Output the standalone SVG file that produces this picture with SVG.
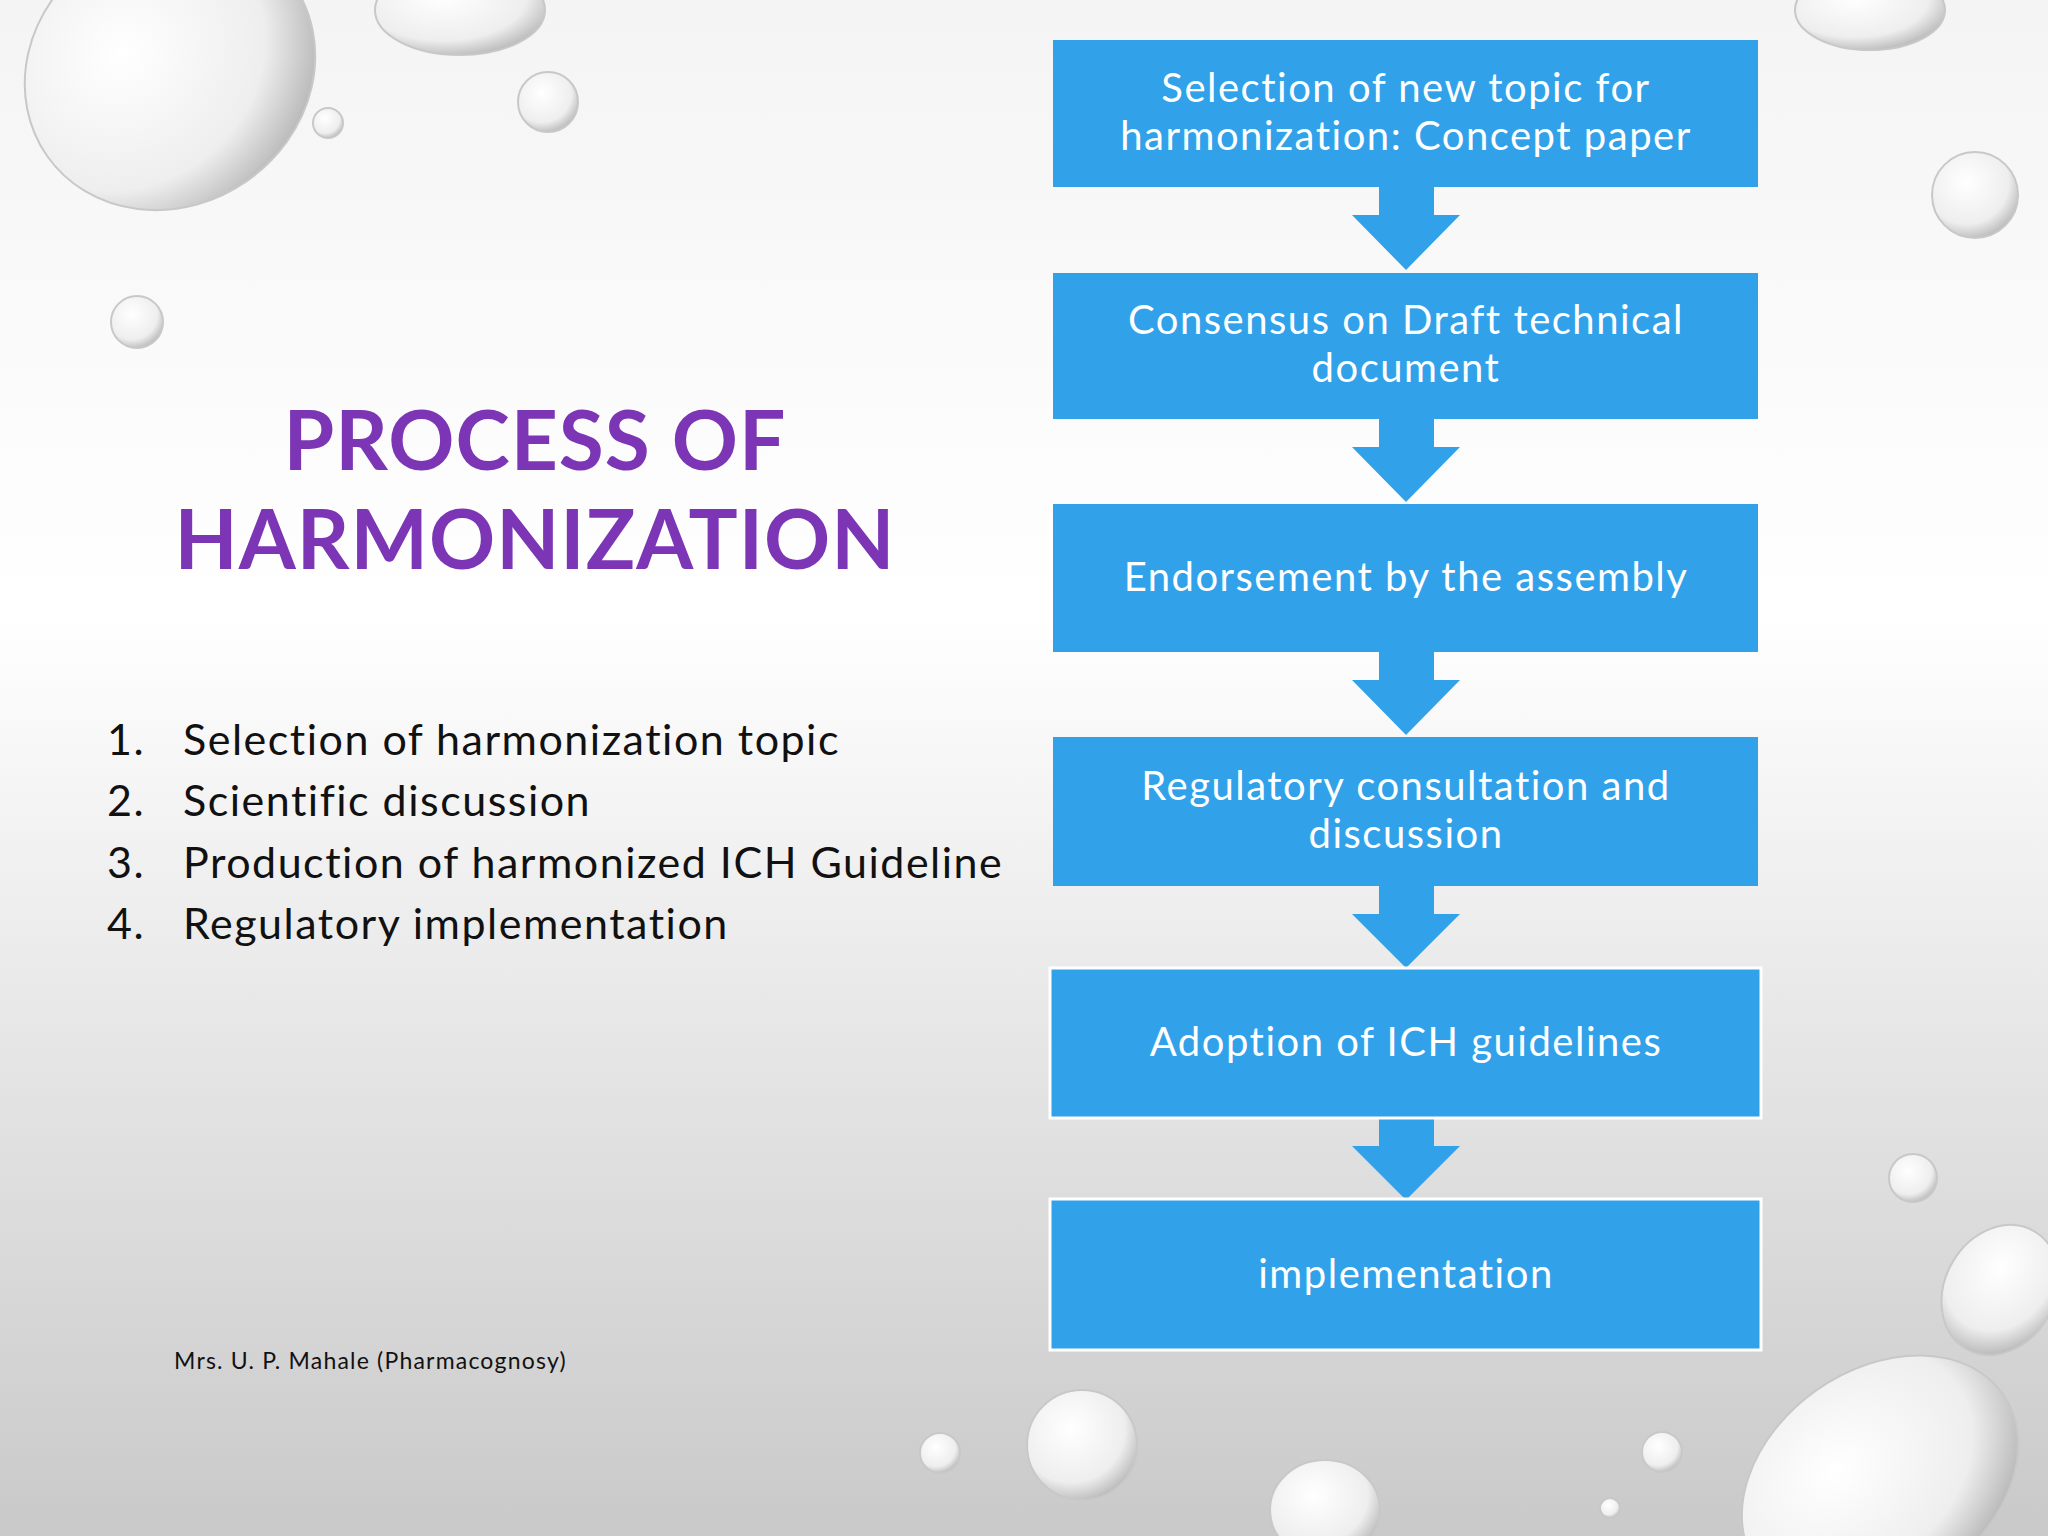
<svg xmlns="http://www.w3.org/2000/svg" width="2048" height="1536" viewBox="0 0 2048 1536">
<defs>
<linearGradient id="bg" x1="0" y1="0" x2="0" y2="1"><stop offset="0" stop-color="#f4f4f4"/><stop offset="0.4" stop-color="#ffffff"/><stop offset="1" stop-color="#c9c9c9"/></linearGradient>
<radialGradient id="drop" cx="0.4" cy="0.35" r="0.7"><stop offset="0" stop-color="#ffffff"/><stop offset="0.7" stop-color="#eeeeee"/><stop offset="1" stop-color="#b5b5b5"/></radialGradient>
<style>
.box{fill:#31a2ea;}
.box2{fill:#31a2ea;stroke:#ffffff;stroke-width:3;}
.bt{font-family:Lato,"Open Sans",sans-serif;font-size:40px;fill:#ffffff;text-anchor:middle;letter-spacing:1.5px;}
.ar{fill:#31a2ea;}
.li{font-family:Lato,"Open Sans",sans-serif;font-size:43px;fill:#111111;letter-spacing:1.5px;}
.dr{fill:url(#drop);stroke:#c8c8c8;stroke-width:2;}
</style>
</defs>
<rect width="2048" height="1536" fill="url(#bg)"/>
<g id="drops">
<ellipse class="dr" cx="170" cy="70" rx="150" ry="135" transform="rotate(-35 170 70)"/>
<ellipse class="dr" cx="460" cy="10" rx="85" ry="45"/>
<circle class="dr" cx="548" cy="102" r="30"/>
<circle class="dr" cx="328" cy="123" r="15"/>
<circle class="dr" cx="137" cy="322" r="26"/>
<circle class="dr" cx="1975" cy="195" r="43"/>
<ellipse class="dr" cx="1870" cy="10" rx="75" ry="40"/>
<circle class="dr" cx="1913" cy="1178" r="24"/>
<ellipse class="dr" cx="2000" cy="1290" rx="55" ry="68" transform="rotate(30 2000 1290)"/>
<ellipse class="dr" cx="1880" cy="1480" rx="150" ry="110" transform="rotate(-35 1880 1480)"/>
<circle class="dr" cx="1082" cy="1445" r="55"/>
<circle class="dr" cx="940" cy="1453" r="20"/>
<ellipse class="dr" cx="1325" cy="1510" rx="55" ry="50"/>
<circle class="dr" cx="1662" cy="1452" r="20"/>
<circle class="dr" cx="1610" cy="1508" r="10"/>
</g>
<g id="title" font-family="Lato,'DejaVu Sans',sans-serif" font-weight="bold" font-size="82" fill="#7b35b5" text-anchor="middle" letter-spacing="1">
<text x="535" y="470">PROCESS OF</text>
<text x="535" y="569">HARMONIZATION</text>
</g>
<g id="list" class="li">
<text class="li" x="107" y="755">1.</text><text class="li" x="183" y="755">Selection of harmonization topic</text>
<text class="li" x="107" y="816">2.</text><text class="li" x="183" y="816">Scientific discussion</text>
<text class="li" x="107" y="878">3.</text><text class="li" x="183" y="878">Production of harmonized ICH Guideline</text>
<text class="li" x="107" y="939">4.</text><text class="li" x="183" y="939">Regulatory implementation</text>
</g>
<text id="footer" x="174" y="1369" font-family="Lato,'Open Sans',sans-serif" font-size="23" fill="#111" letter-spacing="1.2">Mrs. U. P. Mahale (Pharmacognosy)</text>
<g id="connectors">
<polygon class="ar" points="1379,187 1434,187 1434,215 1460,215 1406,270 1352,215 1379,215"/>
<polygon class="ar" points="1379,419 1434,419 1434,447 1460,447 1406,502 1352,447 1379,447"/>
<polygon class="ar" points="1379,652 1434,652 1434,680 1460,680 1406,735 1352,680 1379,680"/>
<polygon class="ar" points="1379,886 1434,886 1434,914 1460,914 1406,968 1352,914 1379,914"/>
<polygon class="ar" points="1379,1118 1434,1118 1434,1146 1460,1146 1406,1200 1352,1146 1379,1146"/>
</g>
<g id="n1"><rect class="box" x="1053" y="40" width="705" height="147"/><text class="bt" x="1406" y="102">Selection of new topic for</text><text class="bt" x="1406" y="150">harmonization: Concept paper</text></g>
<g id="n2"><rect class="box" x="1053" y="273" width="705" height="146"/><text class="bt" x="1406" y="334">Consensus on Draft technical</text><text class="bt" x="1406" y="382">document</text></g>
<g id="n3"><rect class="box" x="1053" y="504" width="705" height="148"/><text class="bt" x="1406" y="591">Endorsement by the assembly</text></g>
<g id="n4"><rect class="box" x="1053" y="737" width="705" height="149"/><text class="bt" x="1406" y="800">Regulatory consultation and</text><text class="bt" x="1406" y="848">discussion</text></g>
<g id="n5"><rect class="box2" x="1050" y="968" width="711" height="150"/><text class="bt" x="1406" y="1056">Adoption of ICH guidelines</text></g>
<g id="n6"><rect class="box2" x="1050" y="1199" width="711" height="151"/><text class="bt" x="1406" y="1288">implementation</text></g>
</svg>
